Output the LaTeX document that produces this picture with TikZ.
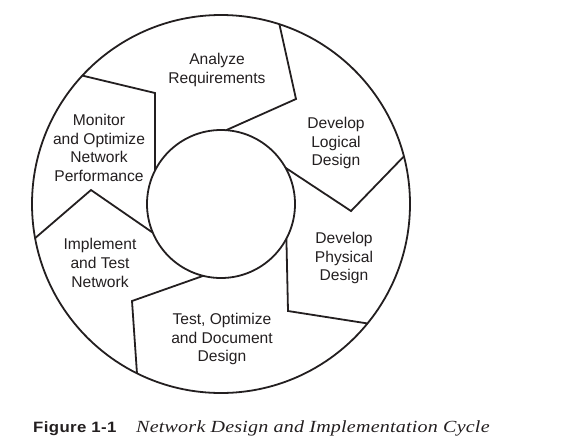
\documentclass[tikz,border=0pt]{standalone}
\usepackage{fontspec}
\setmainfont{Liberation Sans}
\newfontfamily\capserif[FakeStretch=1.18,LetterSpace=1.2]{Liberation Serif}
\newfontfamily\capsans[FakeStretch=1.12,LetterSpace=2.5]{Liberation Sans}
\usetikzlibrary{calc}
\definecolor{ink}{HTML}{231F20}
\begin{document}
\begin{tikzpicture}[x=1pt,y=-1pt,
  ring/.style={draw=ink,line width=1.8pt},
  divider/.style={draw=ink,line width=1.8pt,line join=miter},
  stage/.style={align=center,text=ink,inner sep=0pt,
    font=\fontsize{15.6}{18.6}\selectfont}]
\useasboundingbox (0,0) rectangle (580,445);
\coordinate (c) at (221,204);
\draw[ring] (c) circle[radius=189];
\draw[ring] (c) circle[radius=74];
% divider points
\coordinate (d1i) at ([shift={(-86:74)}]c);
\coordinate (d1t) at (296,99);
\coordinate (d1o) at ([shift={(-72:189)}]c);
\coordinate (d2i) at ([shift={(-29.3:74)}]c);
\coordinate (d2t) at (351,211);
\coordinate (d2o) at ([shift={(-14.6:189)}]c);
\coordinate (d3i) at ([shift={(27.9:74)}]c);
\coordinate (d3t) at (288,311);
\coordinate (d3o) at ([shift={(39.2:189)}]c);
\coordinate (d4i) at ([shift={(103.9:74)}]c);
\coordinate (d4t) at (132,301);
\coordinate (d4o) at ([shift={(116.4:189)}]c);
\coordinate (d5i) at ([shift={(157.2:74)}]c);
\coordinate (d5t) at (91,190);
\coordinate (d5o) at ([shift={(169.6:189)}]c);
\coordinate (d6i) at ([shift={(206.9:74)}]c);
\coordinate (d6t) at (155,93);
\coordinate (d6o) at ([shift={(222.8:189)}]c);
\draw[divider] (d1i) -- (d1t) -- (d1o);
\draw[divider] (d2i) -- (d2t) -- (d2o);
\draw[divider] (d3i) -- (d3t) -- (d3o);
\draw[divider] (d4i) -- (d4t) -- (d4o);
\draw[divider] (d5i) -- (d5t) -- (d5o);
\draw[divider] (d6i) -- (d6t) -- (d6o);
% stage labels
\node[stage] (analyze) at (217,70) {Analyze\\Requirements};
\node[stage] (logical) at (336,143) {Develop\\Logical\\Design};
\node[stage] (physical) at (344,258) {Develop\\Physical\\Design};
\node[stage] (testopt) at (222,339) {Test, Optimize\\and Document\\Design};
\node[stage] (implement) at (100,263) {Implement\\and Test\\Network};
\node[stage] (monitor) at (99,148) {Monitor\\and Optimize\\Network\\Performance};
% caption
\node[anchor=base west,inner sep=0pt,text=ink,font=\fontsize{15}{18}\selectfont\capsans\bfseries] (fig) at (33,432) {Figure 1-1};
\node[anchor=base west,inner sep=0pt,text=ink,font=\fontsize{17}{20}\selectfont\capserif\itshape] (title) at (136,432) {Network Design and Implementation Cycle};
\end{tikzpicture}
\end{document}
